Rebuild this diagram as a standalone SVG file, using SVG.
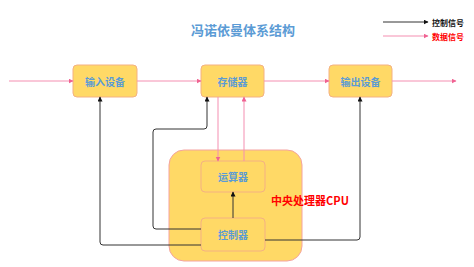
<svg xmlns="http://www.w3.org/2000/svg" width="474" height="267" viewBox="0 0 474 267">
<defs>
<marker id="ab" markerWidth="6" markerHeight="6" refX="4.5" refY="2.5" orient="auto" markerUnits="userSpaceOnUse"><path d="M0,0 L5,2.5 L0,5 Z" fill="#111"/></marker>
<marker id="ap" markerWidth="6" markerHeight="6" refX="4.5" refY="2.5" orient="auto" markerUnits="userSpaceOnUse"><path d="M0,0 L5,2.5 L0,5 Z" fill="#f06292"/></marker>
<style>
.box{fill:#ffd966;stroke:#f4b183;stroke-width:1}
.lbl{font-family:"Noto Sans CJK SC","Liberation Sans",sans-serif;font-size:10px;font-weight:bold;fill:#5b9bd5;text-anchor:middle;dominant-baseline:central}
.ctl{fill:none;stroke:#333;stroke-width:1;marker-end:url(#ab)}
.dat{fill:none;stroke:#f48fb1;stroke-width:1;marker-end:url(#ap)}
.leg{font-family:"Noto Sans CJK SC","Liberation Sans",sans-serif;font-size:8px;font-weight:bold;dominant-baseline:central}
</style>
</defs>
<rect width="474" height="267" fill="#fff"/>
<text x="243" y="29" font-family="'Noto Sans CJK SC','Liberation Sans',sans-serif" font-size="13" font-weight="bold" fill="#5b9bd5" text-anchor="middle" dominant-baseline="central">冯诺依曼体系结构</text>
<g id="legend">
<line x1="383" y1="22" x2="428" y2="22" class="ctl"/>
<text x="432" y="22" class="leg" fill="#111">控制信号</text>
<line x1="383" y1="36" x2="428" y2="36" class="dat"/>
<text x="432" y="36" class="leg" fill="#f00">数据信号</text>
</g>
<g id="cpu">
<rect x="169" y="150" width="133" height="111" rx="15" fill="#ffd966" stroke="#f4a3a0"/>
<text x="310" y="200" font-family="'Noto Sans CJK SC','Liberation Sans',sans-serif" font-size="11" font-weight="bold" fill="#f00" text-anchor="middle" dominant-baseline="central">中央处理器CPU</text>
</g>
<g id="input"><rect x="73" y="65" width="64" height="32" rx="4" class="box"/><text x="105" y="81" class="lbl">输入设备</text></g>
<g id="memory"><rect x="201" y="65" width="63" height="32" rx="4" class="box"/><text x="232.5" y="81" class="lbl">存储器</text></g>
<g id="output"><rect x="329" y="65" width="63" height="32" rx="4" class="box"/><text x="360.5" y="81" class="lbl">输出设备</text></g>
<g id="alu"><rect x="201" y="161" width="64" height="31" rx="4" class="box"/><text x="233" y="176.5" class="lbl">运算器</text></g>
<g id="ctrl"><rect x="201" y="218" width="64" height="33" rx="4" class="box"/><text x="233" y="234.5" class="lbl">控制器</text></g>
<g id="connectors">
<line x1="9" y1="81" x2="73" y2="81" class="dat"/>
<line x1="137" y1="81" x2="201" y2="81" class="dat"/>
<line x1="264" y1="81" x2="329" y2="81" class="dat"/>
<line x1="392" y1="81" x2="456" y2="81" class="dat"/>
<line x1="218" y1="97" x2="218" y2="161" class="dat"/>
<line x1="244" y1="161" x2="244" y2="97" class="dat"/>
<line x1="233" y1="218" x2="233" y2="192" class="ctl"/>
<path d="M201,245 H103 Q100,245 100,242 V97" class="ctl"/>
<path d="M201,229 H156 Q153,229 153,226 V132 Q153,129 156,129 H204 Q207,129 207,126 V97" class="ctl"/>
<path d="M265,240 H357 Q360,240 360,237 V97" class="ctl"/>
</g>
</svg>
